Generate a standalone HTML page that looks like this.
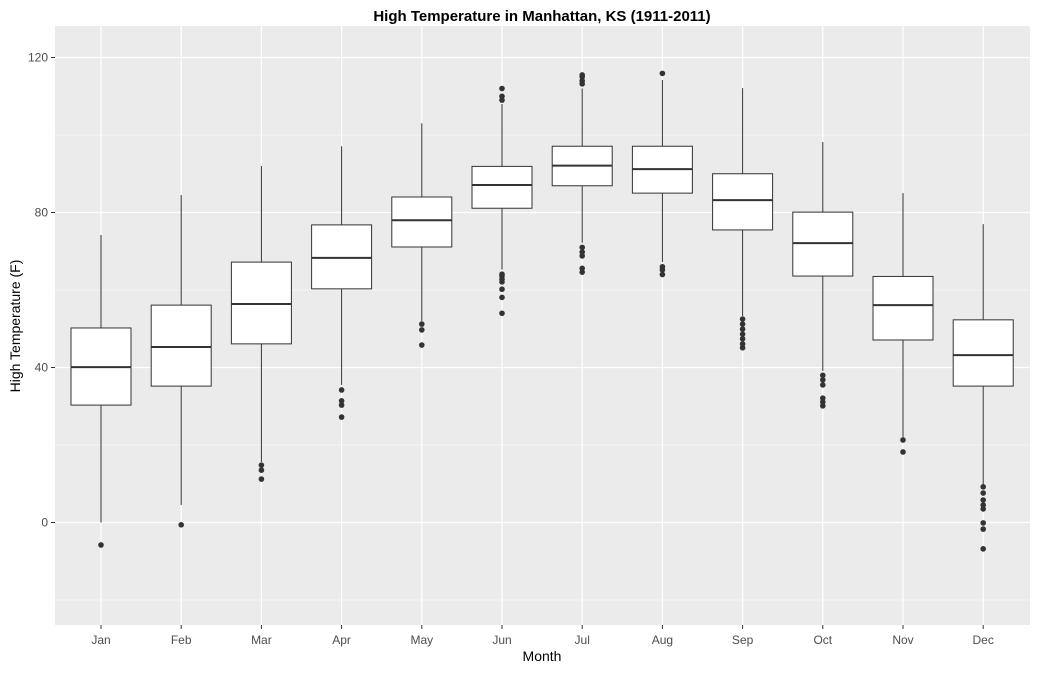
<!DOCTYPE html>
<html><head><meta charset="utf-8"><style>
body{margin:0;background:#fff;font-family:"Liberation Sans",Arial,sans-serif}
</style></head><body>
<svg id="chart" width="1039" height="671" xmlns="http://www.w3.org/2000/svg" font-family="Liberation Sans, Arial, sans-serif">
<text x="542" y="21" text-anchor="middle" font-size="15" font-weight="bold">High Temperature in Manhattan, KS (1911-2011)</text>
<rect x="55" y="26" width="975" height="599" fill="#ebebeb"/>
<g id="grid"></g><g id="marks"></g><g id="axes"></g>
<text x="542" y="661" text-anchor="middle" font-size="14">Month</text>
<text transform="translate(20,326) rotate(-90)" text-anchor="middle" font-size="14">High Temperature (F)</text>
</svg>
<script>
const months=["Jan","Feb","Mar","Apr","May","Jun","Jul","Aug","Sep","Oct","Nov","Dec"];
const whiskerLow=[0,4.5,15.6,35.5,52,65.3,72.2,67.2,53.3,39.1,22.1,9.9];
const q1=[30.3,35.2,46.1,60.3,71.1,81.1,86.9,85,75.5,63.6,47.1,35.2];
const median=[40.1,45.3,56.4,68.3,78,87.1,92.1,91.2,83.2,72.1,56.1,43.2];
const q3=[50.2,56.1,67.2,76.8,84,91.9,97.1,97.1,90,80.1,63.5,52.3];
const whiskerHigh=[74.2,84.5,92,97.1,103,108,112,114.2,112.1,98.2,85,77];
const outliers=[[-5.8],[-0.6],[14.8,13.5,11.2],[34.2,31.4,30.3,27.2],[51.2,49.7,45.8],
[112,110,109,64.1,63.6,62.8,62.1,60.2,58.1,54],[115.5,115,114,113.2,71,69.8,68.8,65.6,64.6],
[115.9,66,65.2,64],[52.5,51.2,49.9,48.6,47.4,46.1,45.1],[38,36.8,35.5,32.1,31.1,30.1],
[21.3,18.2],[9.2,7.6,5.8,4.5,3.5,-0.1,-1.7,-6.8]];
const yMajor=[0,40,80,120], yMinor=[-20,20,60,100];
const NS="http://www.w3.org/2000/svg";
const y=v=>522.5-3.875*v;
const x=i=>101+80.2*i;
function mk(p,t,a){const e=document.createElementNS(NS,t);for(const k in a)e.setAttribute(k,a[k]);p.appendChild(e);return e;}
const grid=document.getElementById('grid'),marks=document.getElementById('marks'),axes=document.getElementById('axes');
yMinor.forEach(v=>{const l=mk(grid,'line',{x1:55,x2:1030,y1:y(v),y2:y(v),stroke:'#fff','stroke-width':0.6});

});
yMajor.forEach(v=>{const l=mk(grid,'line',{x1:55,x2:1030,y1:y(v),y2:y(v),stroke:'#fff','stroke-width':1.2});


const tk=mk(axes,'line',{x1:51,x2:55,y1:y(v),y2:y(v),stroke:'#333'});


const t=mk(axes,'text',{x:48,y:y(v)+4,'text-anchor':'end','font-size':12,fill:'#4d4d4d'});t.textContent=v;

});
months.forEach((m,i)=>{const cx=x(i);
const gl=mk(grid,'line',{x1:cx,x2:cx,y1:26,y2:625,stroke:'#fff','stroke-width':1.2});


const tk=mk(axes,'line',{x1:cx,x2:cx,y1:625,y2:629,stroke:'#333'});


const t=mk(axes,'text',{x:cx,y:644,'text-anchor':'middle','font-size':12,fill:'#4d4d4d'});t.textContent=m;


const g=mk(marks,'g',{});


mk(g,'line',{x1:cx,x2:cx,y1:y(whiskerHigh[i]),y2:y(q3[i]),stroke:'#333','stroke-width':1});
mk(g,'line',{x1:cx,x2:cx,y1:y(q1[i]),y2:y(whiskerLow[i]),stroke:'#333','stroke-width':1});
mk(g,'rect',{x:cx-30,y:y(q3[i]),width:60,height:y(q1[i])-y(q3[i]),fill:'#fff',stroke:'#333','stroke-width':1});
mk(g,'line',{x1:cx-30,x2:cx+30,y1:y(median[i]),y2:y(median[i]),stroke:'#333','stroke-width':2});
outliers[i].forEach(o=>{const c=mk(g,'circle',{cx:cx,cy:y(o),r:2.8,fill:'#333'});

});
});
</script>
</body></html>
